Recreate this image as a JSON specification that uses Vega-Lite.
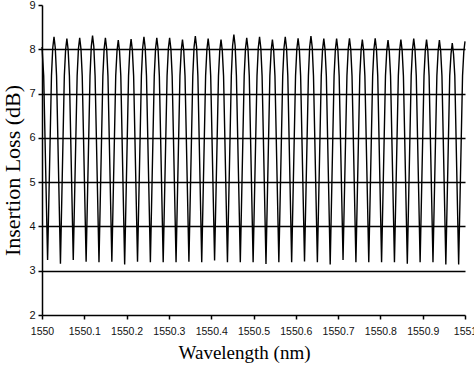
{
  "$schema": "https://vega.github.io/schema/vega-lite/v6.json",
  "width": 423,
  "height": 310,
  "autosize": {"type": "none"},
  "padding": {"left": 42, "top": 5, "right": 9, "bottom": 51},
  "background": "white",
  "view": {"stroke": null},
  "data": {"values": [
    {"wl":1550.0000,"il":8.05},{"wl":1550.0040,"il":7.40},
    {"wl":1550.0132,"il":3.24},{"wl":1550.0224,"il":7.40},{"wl":1550.0254,"il":8.03},{"wl":1550.0284,"il":8.28},{"wl":1550.0314,"il":8.03},{"wl":1550.0344,"il":7.40},
    {"wl":1550.0436,"il":3.16},{"wl":1550.0528,"il":7.40},{"wl":1550.0558,"il":7.99},{"wl":1550.0588,"il":8.24},{"wl":1550.0618,"il":7.99},{"wl":1550.0648,"il":7.40},
    {"wl":1550.0739,"il":3.24},{"wl":1550.0831,"il":7.40},{"wl":1550.0861,"il":8.01},{"wl":1550.0891,"il":8.26},{"wl":1550.0921,"il":8.01},{"wl":1550.0951,"il":7.40},
    {"wl":1550.1043,"il":3.20},{"wl":1550.1135,"il":7.40},{"wl":1550.1165,"il":8.06},{"wl":1550.1195,"il":8.31},{"wl":1550.1225,"il":8.06},{"wl":1550.1255,"il":7.40},
    {"wl":1550.1347,"il":3.19},{"wl":1550.1439,"il":7.40},{"wl":1550.1469,"il":8.01},{"wl":1550.1499,"il":8.26},{"wl":1550.1529,"il":8.01},{"wl":1550.1559,"il":7.40},
    {"wl":1550.1651,"il":3.20},{"wl":1550.1743,"il":7.40},{"wl":1550.1773,"il":7.96},{"wl":1550.1803,"il":8.21},{"wl":1550.1833,"il":7.96},{"wl":1550.1863,"il":7.40},
    {"wl":1550.1954,"il":3.14},{"wl":1550.2046,"il":7.40},{"wl":1550.2076,"il":7.98},{"wl":1550.2106,"il":8.23},{"wl":1550.2136,"il":7.98},{"wl":1550.2166,"il":7.40},
    {"wl":1550.2258,"il":3.20},{"wl":1550.2350,"il":7.40},{"wl":1550.2380,"il":8.03},{"wl":1550.2410,"il":8.28},{"wl":1550.2440,"il":8.03},{"wl":1550.2470,"il":7.40},
    {"wl":1550.2562,"il":3.19},{"wl":1550.2654,"il":7.40},{"wl":1550.2684,"il":8.01},{"wl":1550.2714,"il":8.26},{"wl":1550.2744,"il":8.01},{"wl":1550.2774,"il":7.40},
    {"wl":1550.2865,"il":3.19},{"wl":1550.2957,"il":7.40},{"wl":1550.2987,"il":8.01},{"wl":1550.3017,"il":8.26},{"wl":1550.3047,"il":8.01},{"wl":1550.3077,"il":7.40},
    {"wl":1550.3169,"il":3.19},{"wl":1550.3261,"il":7.40},{"wl":1550.3291,"il":7.97},{"wl":1550.3321,"il":8.22},{"wl":1550.3351,"il":7.97},{"wl":1550.3381,"il":7.40},
    {"wl":1550.3473,"il":3.20},{"wl":1550.3565,"il":7.40},{"wl":1550.3595,"il":8.05},{"wl":1550.3625,"il":8.30},{"wl":1550.3655,"il":8.05},{"wl":1550.3685,"il":7.40},
    {"wl":1550.3776,"il":3.19},{"wl":1550.3868,"il":7.40},{"wl":1550.3898,"il":7.99},{"wl":1550.3928,"il":8.24},{"wl":1550.3958,"il":7.99},{"wl":1550.3988,"il":7.40},
    {"wl":1550.4080,"il":3.23},{"wl":1550.4172,"il":7.40},{"wl":1550.4202,"il":7.97},{"wl":1550.4232,"il":8.22},{"wl":1550.4262,"il":7.97},{"wl":1550.4292,"il":7.40},
    {"wl":1550.4384,"il":3.19},{"wl":1550.4476,"il":7.40},{"wl":1550.4506,"il":8.08},{"wl":1550.4536,"il":8.33},{"wl":1550.4566,"il":8.08},{"wl":1550.4596,"il":7.40},
    {"wl":1550.4688,"il":3.19},{"wl":1550.4780,"il":7.40},{"wl":1550.4810,"il":8.01},{"wl":1550.4840,"il":8.26},{"wl":1550.4870,"il":8.01},{"wl":1550.4900,"il":7.40},
    {"wl":1550.4991,"il":3.19},{"wl":1550.5083,"il":7.40},{"wl":1550.5113,"il":8.03},{"wl":1550.5143,"il":8.28},{"wl":1550.5173,"il":8.03},{"wl":1550.5203,"il":7.40},
    {"wl":1550.5295,"il":3.15},{"wl":1550.5387,"il":7.40},{"wl":1550.5417,"il":7.97},{"wl":1550.5447,"il":8.22},{"wl":1550.5477,"il":7.97},{"wl":1550.5507,"il":7.40},
    {"wl":1550.5599,"il":3.19},{"wl":1550.5691,"il":7.40},{"wl":1550.5721,"il":8.03},{"wl":1550.5751,"il":8.28},{"wl":1550.5781,"il":8.03},{"wl":1550.5811,"il":7.40},
    {"wl":1550.5902,"il":3.19},{"wl":1550.5994,"il":7.40},{"wl":1550.6024,"il":8.00},{"wl":1550.6054,"il":8.25},{"wl":1550.6084,"il":8.00},{"wl":1550.6114,"il":7.40},
    {"wl":1550.6206,"il":3.21},{"wl":1550.6298,"il":7.40},{"wl":1550.6328,"il":8.05},{"wl":1550.6358,"il":8.30},{"wl":1550.6388,"il":8.05},{"wl":1550.6418,"il":7.40},
    {"wl":1550.6510,"il":3.19},{"wl":1550.6602,"il":7.40},{"wl":1550.6632,"il":7.99},{"wl":1550.6662,"il":8.24},{"wl":1550.6692,"il":7.99},{"wl":1550.6722,"il":7.40},
    {"wl":1550.6813,"il":3.14},{"wl":1550.6905,"il":7.40},{"wl":1550.6935,"il":7.99},{"wl":1550.6965,"il":8.24},{"wl":1550.6995,"il":7.99},{"wl":1550.7025,"il":7.40},
    {"wl":1550.7117,"il":3.24},{"wl":1550.7209,"il":7.40},{"wl":1550.7239,"il":8.00},{"wl":1550.7269,"il":8.25},{"wl":1550.7299,"il":8.00},{"wl":1550.7329,"il":7.40},
    {"wl":1550.7421,"il":3.19},{"wl":1550.7513,"il":7.40},{"wl":1550.7543,"il":7.97},{"wl":1550.7573,"il":8.22},{"wl":1550.7603,"il":7.97},{"wl":1550.7633,"il":7.40},
    {"wl":1550.7725,"il":3.19},{"wl":1550.7817,"il":7.40},{"wl":1550.7847,"il":8.00},{"wl":1550.7877,"il":8.25},{"wl":1550.7907,"il":8.00},{"wl":1550.7937,"il":7.40},
    {"wl":1550.8028,"il":3.19},{"wl":1550.8120,"il":7.40},{"wl":1550.8150,"il":7.96},{"wl":1550.8180,"il":8.21},{"wl":1550.8210,"il":7.96},{"wl":1550.8240,"il":7.40},
    {"wl":1550.8332,"il":3.19},{"wl":1550.8424,"il":7.40},{"wl":1550.8454,"il":7.97},{"wl":1550.8484,"il":8.22},{"wl":1550.8514,"il":7.97},{"wl":1550.8544,"il":7.40},
    {"wl":1550.8636,"il":3.16},{"wl":1550.8728,"il":7.40},{"wl":1550.8758,"il":7.99},{"wl":1550.8788,"il":8.24},{"wl":1550.8818,"il":7.99},{"wl":1550.8848,"il":7.40},
    {"wl":1550.8939,"il":3.19},{"wl":1550.9031,"il":7.40},{"wl":1550.9061,"il":7.97},{"wl":1550.9091,"il":8.22},{"wl":1550.9121,"il":7.97},{"wl":1550.9151,"il":7.40},
    {"wl":1550.9243,"il":3.19},{"wl":1550.9335,"il":7.40},{"wl":1550.9365,"il":7.96},{"wl":1550.9395,"il":8.21},{"wl":1550.9425,"il":7.96},{"wl":1550.9455,"il":7.40},
    {"wl":1550.9547,"il":3.14},{"wl":1550.9639,"il":7.40},{"wl":1550.9669,"il":7.89},{"wl":1550.9699,"il":8.14},{"wl":1550.9729,"il":7.89},{"wl":1550.9759,"il":7.40},
    {"wl":1550.9850,"il":3.14},{"wl":1550.9942,"il":7.40},{"wl":1550.9972,"il":7.95},{"wl":1551.0000,"il":8.18}
  ]},
  "mark": {"type": "line", "color": "black", "strokeWidth": 1.4, "interpolate": "linear"},
  "encoding": {
    "x": {
      "field": "wl", "type": "quantitative",
      "scale": {"domain": [1550, 1551], "nice": false, "zero": false},
      "axis": {
        "title": "Wavelength (nm)",
        "values": [1550, 1550.1, 1550.2, 1550.3, 1550.4, 1550.5, 1550.6, 1550.7, 1550.8, 1550.9, 1551],
        "format": ".5~r",
        "grid": false,
        "domainColor": "black", "domainWidth": 1.5,
        "tickColor": "black", "tickSize": 4, "tickWidth": 1.5,
        "labelFont": "Liberation Sans, Arial",
        "labelFontSize": 10.5, "labelColor": "#111", "labelPadding": 7,
        "labelOverlap": false, "labelFlush": false,
        "titleFont": "Liberation Serif, Times New Roman, serif",
        "titleFontSize": 19, "titleFontWeight": "normal", "titleColor": "black",
        "titleX": 202, "titleY": 28, "titleAnchor": "middle"
      }
    },
    "y": {
      "field": "il", "type": "quantitative",
      "scale": {"domain": [2, 9], "nice": false, "zero": false},
      "axis": {
        "title": "Insertion Loss (dB)",
        "values": [2, 3, 4, 5, 6, 7, 8, 9],
        "grid": true, "gridColor": "black", "gridWidth": 1.5,
        "gridOpacity": {"condition": {"test": "datum.value == 9 || datum.value == 2", "value": 0}, "value": 1},
        "domainColor": "black", "domainWidth": 1.5,
        "tickColor": "black", "tickSize": 4, "tickWidth": 1.5,
        "labelFont": "Liberation Sans, Arial",
        "labelFontSize": 11, "labelColor": "#111", "labelPadding": 3,
        "titleFont": "Liberation Serif, Times New Roman, serif",
        "titleFontSize": 22, "titleFontWeight": "normal", "titleColor": "black",
        "titleX": -18, "titleY": 165
      }
    }
  }
}
